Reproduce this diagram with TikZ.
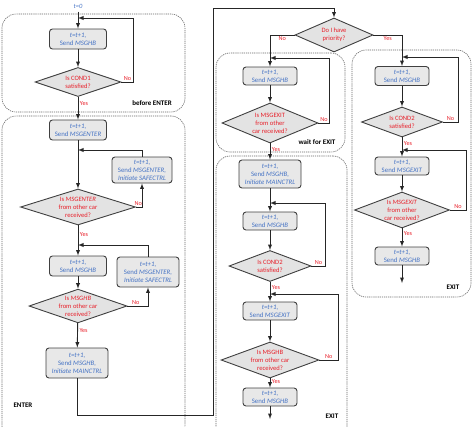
\documentclass[tikz,border=0pt]{standalone}
\usepackage{fontspec}
\setmainfont{Carlito}
\usepackage{xcolor}
\usetikzlibrary{shapes,arrows,fit}
\definecolor{msgblue}{RGB}{68,114,196}
\definecolor{askred}{RGB}{232,32,42}
\definecolor{edgegray}{RGB}{64,64,64}
\tikzset{
	action/.style = {
		draw=edgegray, line width=0.9pt, rectangle, rounded corners=3pt, fill=gray!18,
		text=msgblue, align=center, inner sep=1pt, minimum width=54pt, minimum height=18pt,
		font=\fontsize{6.8}{8}\selectfont
	}
}
\tikzset{
	question/.style = {
		draw=edgegray, line width=0.9pt, diamond, aspect=2.9, fill=gray!22,
		text=askred, align=center, inner sep=0pt, font=\fontsize{6.6}{8}\selectfont
	}
}
\tikzset{
	flow/.style = {
		-latex, line width=0.9pt, black!85
	}
}
\tikzset{
	answer/.style = {
		text=askred, font=\fontsize{6.2}{7}\selectfont, inner sep=1.5pt
	}
}
\tikzset{
	region/.style = {
		draw=black!60, dash pattern=on 1.2pt off 0.9pt, line width=0.6pt, rounded corners=14pt, inner sep=0pt
	}
}
\tikzset{
	phase/.style = {
		font=\bfseries\fontsize{7}{8}\selectfont
	}
}

\begin{document}
\begin{tikzpicture}[x=1pt, y=-1pt]
	\useasboundingbox (0,0) rectangle (474,426);

	% dashed phase frames
	\node[region, fit={(2,14) (185,112)}](beforeEnterFrame){};
	\node[region, fit={(2,116) (185,440)}](enterFrame){};
	\node[region, fit={(216,53) (345,152)}](waitExitFrame){};
	\node[region, fit={(216,156) (347,440)}](exitFrameMid){};
	\node[region, fit={(352,50) (471,297)}](exitFrameRight){};
	\node[phase] at (152,103) (beforeEnterLabel){before ENTER};
	\node[phase] at (23,405) (enterLabel){ENTER};
	\node[phase] at (317,142) (waitExitLabel){wait for EXIT};
	\node[phase] at (332,416) (exitLabelMid){EXIT};
	\node[phase] at (453,287) (exitLabelRight){EXIT};

	% left column
	\node[text=msgblue, font=\itshape\fontsize{6.5}{8}\selectfont] at (78,6) (tZero){t=0};
	\node[action, minimum width=57pt, minimum height=20pt] at (78,39) (sendHB){\textit{t=t+1,}\\Send \textit{MSGHB}};
	\node[question, minimum width=86pt, minimum height=29pt] at (78,82) (askCondOne){Is COND1\\satisfied?};
	\node[action, minimum width=57pt, minimum height=20pt] at (78,130) (sendEnter){\textit{t=t+1,}\\Send \textit{MSGENTER}};
	\node[action, minimum width=60pt, minimum height=26pt] at (142,170) (startSafeA){\textit{t=t+1,}\\Send \textit{MSGENTER,}\\\textit{Initiate SAFECTRL}};
	\node[question, minimum width=115pt, minimum height=36pt] at (78,207) (askEnter){Is \textit{MSGENTER}\\from other car\\received?};
	\node[action, minimum width=57pt, minimum height=20pt] at (78,266) (sendHBEnter){\textit{t=t+1,}\\Send \textit{MSGHB}};
	\node[action, minimum width=62pt, minimum height=30pt] at (148,272) (startSafeB){\textit{t=t+1,}\\Send \textit{MSGENTER,}\\\textit{Initiate SAFECTRL}};
	\node[question, minimum width=98pt, minimum height=33pt] at (78,306) (askHBEnter){Is \textit{MSGHB}\\from other car\\received?};
	\node[action, minimum width=62pt, minimum height=30pt] at (77,363) (startMainA){\textit{t=t+1,}\\Send \textit{MSGHB,}\\\textit{Initiate MAINCTRL}};

	% middle column
	\node[question, minimum width=78pt, minimum height=34pt] at (334,35) (askPriority){Do I have\\priority?};
	\node[action] at (270,76) (waitHB){\textit{t=t+1,}\\Send \textit{MSGHB}};
	\node[question, minimum width=96pt, minimum height=40pt] at (270,123) (askExitMid){Is MSGEXIT\\from other\\car received?};
	\node[action, minimum width=62pt, minimum height=28pt] at (270,174) (startMainB){\textit{t=t+1,}\\Send \textit{MSGHB,}\\\textit{Initiate MAINCTRL}};
	\node[action] at (270,221) (exitHBMid){\textit{t=t+1,}\\Send \textit{MSGHB}};
	\node[question, minimum width=82pt, minimum height=31pt] at (270,266) (askCondTwoMid){Is COND2\\satisfied?};
	\node[action] at (270,311) (sendExitMid){\textit{t=t+1,}\\Send \textit{MSGEXIT}};
	\node[question, minimum width=96pt, minimum height=36pt] at (270,360) (askHBExit){Is MSGHB\\from other car\\received?};
	\node[action] at (270,397) (lastHBMid){\textit{t=t+1,}\\Send \textit{MSGHB}};

	% right column
	\node[action, minimum height=19pt] at (402,76) (exitHBRight){\textit{t=t+1,}\\Send \textit{MSGHB}};
	\node[question, minimum width=81pt, minimum height=30pt] at (402,122) (askCondTwoRight){Is COND2\\satisfied?};
	\node[action] at (402,166) (sendExitRight){\textit{t=t+1,}\\Send \textit{MSGEXIT}};
	\node[question, minimum width=95pt, minimum height=36pt] at (402,210) (askExitRight){Is \textit{MSGEXIT}\\from other\\car received?};
	\node[action] at (402,256) (lastHBRight){\textit{t=t+1,}\\Send \textit{MSGHB}};

	% junctions and loose ends
	\coordinate (loopCondOne) at (78,18);
	\coordinate (loopEnter) at (78,150);
	\coordinate (loopHBEnter) at (78,245);
	\coordinate (routeLow) at (213,415);
	\coordinate (routeHigh) at (213,8);
	\coordinate (loopWaitExit) at (270,58);
	\coordinate (loopCondTwoMid) at (270,203);
	\coordinate (loopHBExit) at (270,294);
	\coordinate (endMid) at (270,419);
	\coordinate (loopCondTwoRight) at (402,57);
	\coordinate (loopExitRight) at (402,150);
	\coordinate (endRight) at (402,283);

	\draw[flow] (tZero) -- (sendHB);
	\draw[flow] (sendHB) -- (askCondOne);
	\draw[flow] (askCondOne.east) -- node[answer, above] {No} ++(12,0) |- (loopCondOne);
	\draw[flow] (askCondOne) -- node[answer, right, pos=0.3] {Yes} (sendEnter);
	\draw[flow] (sendEnter) -- (askEnter);
	\draw[flow] (askEnter.east) -| node[answer, above, pos=0.2] {No} (startSafeA.south);
	\draw[flow] (startSafeA.north) |- (loopEnter);
	\draw[flow] (askEnter) -- node[answer, right, pos=0.3] {Yes} (sendHBEnter);
	\draw[flow] (sendHBEnter) -- (askHBEnter);
	\draw[flow] (askHBEnter.east) -| node[answer, above, pos=0.2] {No} (startSafeB.south);
	\draw[flow] (startSafeB.north) |- (loopHBEnter);
	\draw[flow] (askHBEnter) -- node[answer, right, pos=0.3] {Yes} (startMainA);
	\draw[flow] (startMainA.south) |- (routeLow) -- (routeHigh) -| (askPriority.north);

	\draw[flow] (askPriority.west) -| node[answer, below, pos=0.25] {No} (waitHB.north);
	\draw[flow] (waitHB) -- (askExitMid);
	\draw[flow] (askExitMid.east) -- node[answer, above] {No} ++(11,0) |- (loopWaitExit);
	\draw[flow] (askExitMid) -- node[answer, right, pos=0.35] {Yes} (startMainB);
	\draw[flow] (startMainB) -- (exitHBMid);
	\draw[flow] (exitHBMid) -- (askCondTwoMid);
	\draw[flow] (askCondTwoMid.east) -- node[answer, above] {No} ++(14,0) |- (loopCondTwoMid);
	\draw[flow] (askCondTwoMid) -- node[answer, right, pos=0.3] {Yes} (sendExitMid);
	\draw[flow] (sendExitMid) -- (askHBExit);
	\draw[flow] (askHBExit.east) -- node[answer, above] {No} ++(19,0) |- (loopHBExit);
	\draw[flow] (askHBExit) -- node[answer, right, pos=0.3] {Yes} (lastHBMid);
	\draw[flow] (lastHBMid) -- (endMid);

	\draw[flow] (askPriority.east) -| node[answer, below, pos=0.25] {Yes} (exitHBRight.north);
	\draw[flow] (exitHBRight) -- (askCondTwoRight);
	\draw[flow] (askCondTwoRight.east) -- node[answer, above] {No} ++(15,0) |- (loopCondTwoRight);
	\draw[flow] (askCondTwoRight) -- node[answer, right, pos=0.3] {Yes} (sendExitRight);
	\draw[flow] (sendExitRight) -- (askExitRight);
	\draw[flow] (askExitRight.east) -- node[answer, above] {No} ++(16,0) |- (loopExitRight);
	\draw[flow] (askExitRight) -- node[answer, right, pos=0.3] {Yes} (lastHBRight);
	\draw[flow] (lastHBRight) -- (endRight);
\end{tikzpicture}
\end{document}
